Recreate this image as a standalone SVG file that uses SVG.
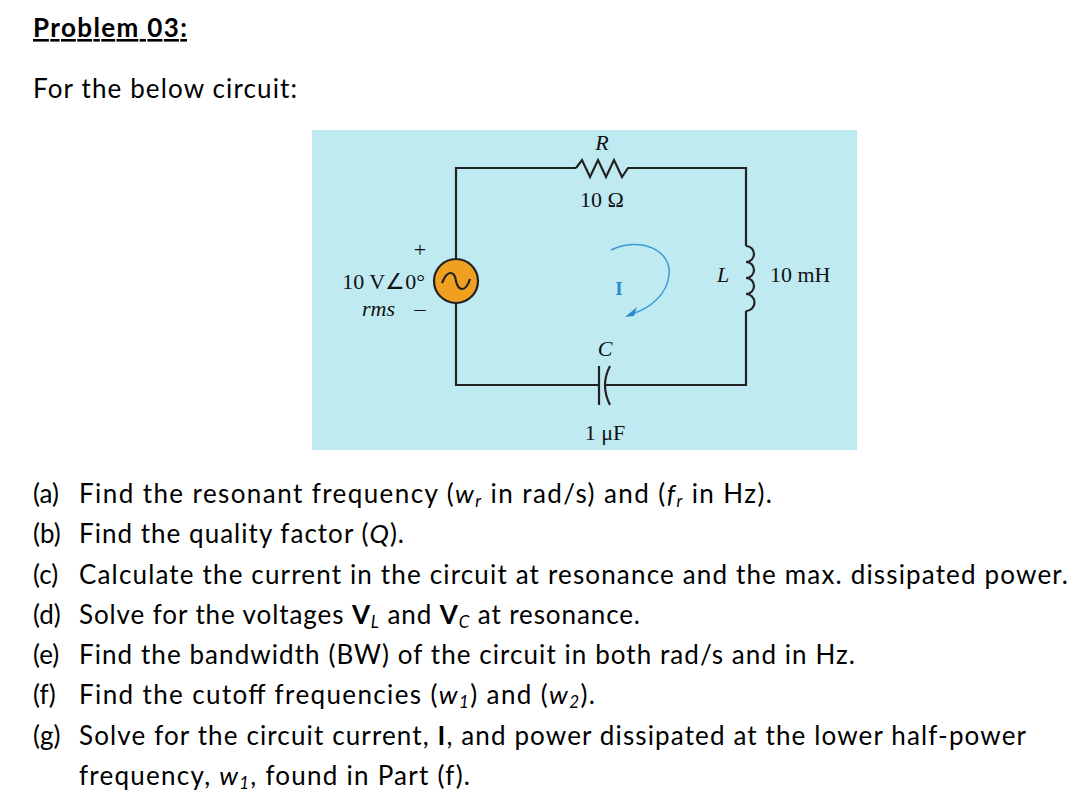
<svg xmlns="http://www.w3.org/2000/svg" width="1086" height="805" viewBox="0 0 1086 805">
<style>
.t{font-family:Lato,"Open Sans",sans-serif;font-size:26px;fill:#000}
.s{font-family:"Liberation Serif",serif;font-size:22px;fill:#111}
.w{fill:none;stroke:#222;stroke-width:2.2}
.sub{font-size:17px}
</style>
<rect width="1086" height="805" fill="#fff"/>
<text class="t" x="33" y="37" font-weight="bold" text-decoration="underline" textLength="154">Problem 03:</text>
<text class="t" x="33" y="98" textLength="264">For the below circuit:</text>
<rect x="312" y="130" width="545" height="320" fill="#c0eaf1"/>
<g id="wires">
<path class="w" d="M576,168 H456 V259 M456,303 V385 H599 M606,385 H746 V311 M746,246 V168 H632"/>
</g>
<g id="resistor">
<path class="w" d="M576,168 L582,160 L590,177 L598,160 L606,177 L614,160 L622,177 L628,168 L632,168"/>
<text class="s" x="602" y="150" text-anchor="middle" font-style="italic">R</text>
<text class="s" x="602" y="207" text-anchor="middle">10 Ω</text>
</g>
<g id="source">
<circle cx="456" cy="281" r="22" fill="#f0a020" stroke="#222" stroke-width="2.2"/>
<path class="w" d="M442,283 C448,268 455,272 456,281 C458,290 465,294 470,279"/>
<text class="s" x="420" y="257" text-anchor="middle">+</text>
<text class="s" x="425" y="289" text-anchor="end">10 V∠0°</text>
<text class="s" x="395" y="316" text-anchor="end" font-style="italic">rms</text>
<text class="s" x="420" y="316" text-anchor="middle">–</text>
</g>
<g id="inductor">
<path class="w" d="M746,246 a8,8 0 1 1 0,16 a8,8 0 1 1 0,16 a8,8 0 1 1 0,16 a8,8 0 1 1 0,17"/>
<text class="s" x="723" y="282" text-anchor="middle" font-style="italic">L</text>
<text class="s" x="770" y="282">10 mH</text>
</g>
<g id="capacitor">
<line class="w" x1="599" y1="366" x2="599" y2="405"/>
<path class="w" d="M610,366 Q600,385 610,405"/>
<text class="s" x="605" y="356" text-anchor="middle" font-style="italic">C</text>
<text class="s" x="605" y="440" text-anchor="middle">1 μF</text>
</g>
<g id="current">
<path d="M611,250 C640,236 672,250 669,275 C667,295 650,308 632,314" fill="none" stroke="#3a9ad6" stroke-width="1.5"/>
<path d="M625,317 L637,307 L634,316 Z" fill="#2a8ad0"/>
<text x="619" y="295" text-anchor="middle" font-family="Liberation Serif,serif" font-weight="bold" font-size="19" fill="#2a8ad0">I</text>
</g>
<g class="t">
<text x="33" y="503">(a)</text><text x="79" y="503" textLength="693">Find the resonant frequency (<tspan font-style="italic">w</tspan><tspan class="sub" font-style="italic" dy="4">r</tspan><tspan dy="-4"> in rad/s) and (</tspan><tspan font-style="italic">f</tspan><tspan class="sub" font-style="italic" dy="4">r</tspan><tspan dy="-4"> in Hz).</tspan></text>
<text x="33" y="543">(b)</text><text x="79" y="543" textLength="325">Find the quality factor (<tspan font-style="italic">Q</tspan>).</text>
<text x="33" y="584">(c)</text><text x="79" y="584" textLength="989">Calculate the current in the circuit at resonance and the max. dissipated power.</text>
<text x="33" y="624">(d)</text><text x="79" y="624" textLength="561">Solve for the voltages <tspan font-weight="bold">V</tspan><tspan class="sub" font-style="italic" dy="4">L</tspan><tspan dy="-4"> and </tspan><tspan font-weight="bold">V</tspan><tspan class="sub" font-style="italic" dy="4">C</tspan><tspan dy="-4"> at resonance.</tspan></text>
<text x="33" y="664">(e)</text><text x="79" y="664" textLength="776">Find the bandwidth (BW) of the circuit in both rad/s and in Hz.</text>
<text x="33" y="704">(f)</text><text x="79" y="704" textLength="516">Find the cutoff frequencies (<tspan font-style="italic">w</tspan><tspan class="sub" font-style="italic" dy="4">1</tspan><tspan dy="-4">) and (</tspan><tspan font-style="italic">w</tspan><tspan class="sub" font-style="italic" dy="4">2</tspan><tspan dy="-4">).</tspan></text>
<text x="33" y="745">(g)</text><text x="79" y="745" textLength="947">Solve for the circuit current, <tspan font-weight="bold">I</tspan>, and power dissipated at the lower half-power</text>
<text x="79" y="785" textLength="391">frequency, <tspan font-style="italic">w</tspan><tspan class="sub" font-style="italic" dy="4">1</tspan><tspan dy="-4">, found in Part (f).</tspan></text>
</g>
</svg>
